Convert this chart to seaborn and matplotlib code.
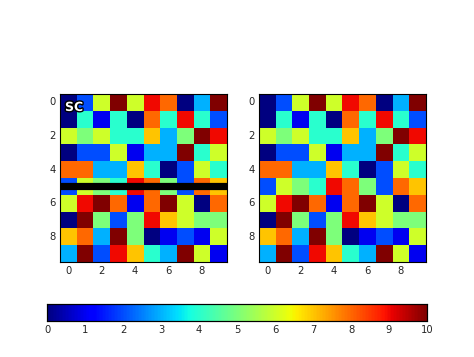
import numpy as np
import matplotlib
matplotlib.use("Agg")
import matplotlib.pyplot as plt
import matplotlib.patheffects as pe
import seaborn as sns

# cell values (jet colormap, 0..10)
row0 = [0, 2, 6, 10, 6, 9, 8, 0, 3, 10]
row1 = [0, 4, 1, 4, 0, 8, 4, 9, 4, 2]
row2 = [6, 5, 6, 4, 4, 7, 3, 5, 10, 9]
row3 = [0, 2, 2, 6, 1, 3, 3, 10, 4, 6]
row4 = [8, 8, 3, 3, 7, 4, 0, 2, 6, 4]
row5 = [2, 6, 5, 4, 9, 8, 5, 2, 8, 7]
row6 = [6, 9, 10, 8, 1, 8, 10, 6, 0, 8]
row7 = [0, 10, 5, 2, 5, 9, 7, 6, 5, 5]
row8 = [7, 8, 3, 10, 5, 0, 1, 2, 1, 6]
row9 = [3, 10, 2, 9, 7, 4, 3, 10, 6, 1]
tick_labels = ["0", "2", "4", "6", "8"]
cbar_ticks = [0, 1, 2, 3, 4, 5, 6, 7, 8, 9, 10]
label_text = "SC"
line_row = 5

data = np.array([row0, row1, row2, row3, row4, row5, row6, row7, row8, row9])

sns.set_style("white")
plt.rcParams["font.family"] = ["DejaVu Sans"]

fig = plt.figure(figsize=(4.74, 3.57), dpi=100)
ax1 = fig.add_axes([0.1266, 0.2661, 0.3523, 0.4706])
ax2 = fig.add_axes([0.5464, 0.2661, 0.3523, 0.4706])
cax = fig.add_axes([0.0992, 0.1008, 0.8017, 0.0476])

sns.heatmap(data, ax=ax1, cmap="jet", vmin=0, vmax=10, cbar=False)
sns.heatmap(data, ax=ax2, cmap="jet", vmin=0, vmax=10, cbar_ax=cax,
            cbar_kws={"orientation": "horizontal", "ticks": cbar_ticks})

ax1.axhline(line_row + 0.5, color="k", lw=5.2)
ax1.text(0.84, 0.8, label_text, color="white", fontsize=9, fontweight="bold",
         ha="center", va="center",
         path_effects=[pe.withStroke(linewidth=2, foreground="k")])

pos = [0.5, 2.5, 4.5, 6.5, 8.5]
for ax in (ax1, ax2):
    ax.set_xticks(pos)
    ax.set_xticklabels(tick_labels, rotation=0)
    ax.set_yticks(pos)
    ax.set_yticklabels(tick_labels, rotation=0)
    ax.tick_params(direction="in", length=3, width=0.6, labelsize=7.2,
                   top=True, right=True, bottom=True, left=True, pad=3)
    for sp in ax.spines.values():
        sp.set_visible(True)
        sp.set_color("k")
        sp.set_linewidth(0.8)

cax.tick_params(direction="in", length=3, width=0.6, labelsize=7.2, pad=3)
for sp in cax.spines.values():
    sp.set_visible(True)
    sp.set_color("k")
    sp.set_linewidth(0.8)

fig.savefig("out.png", dpi=100)
